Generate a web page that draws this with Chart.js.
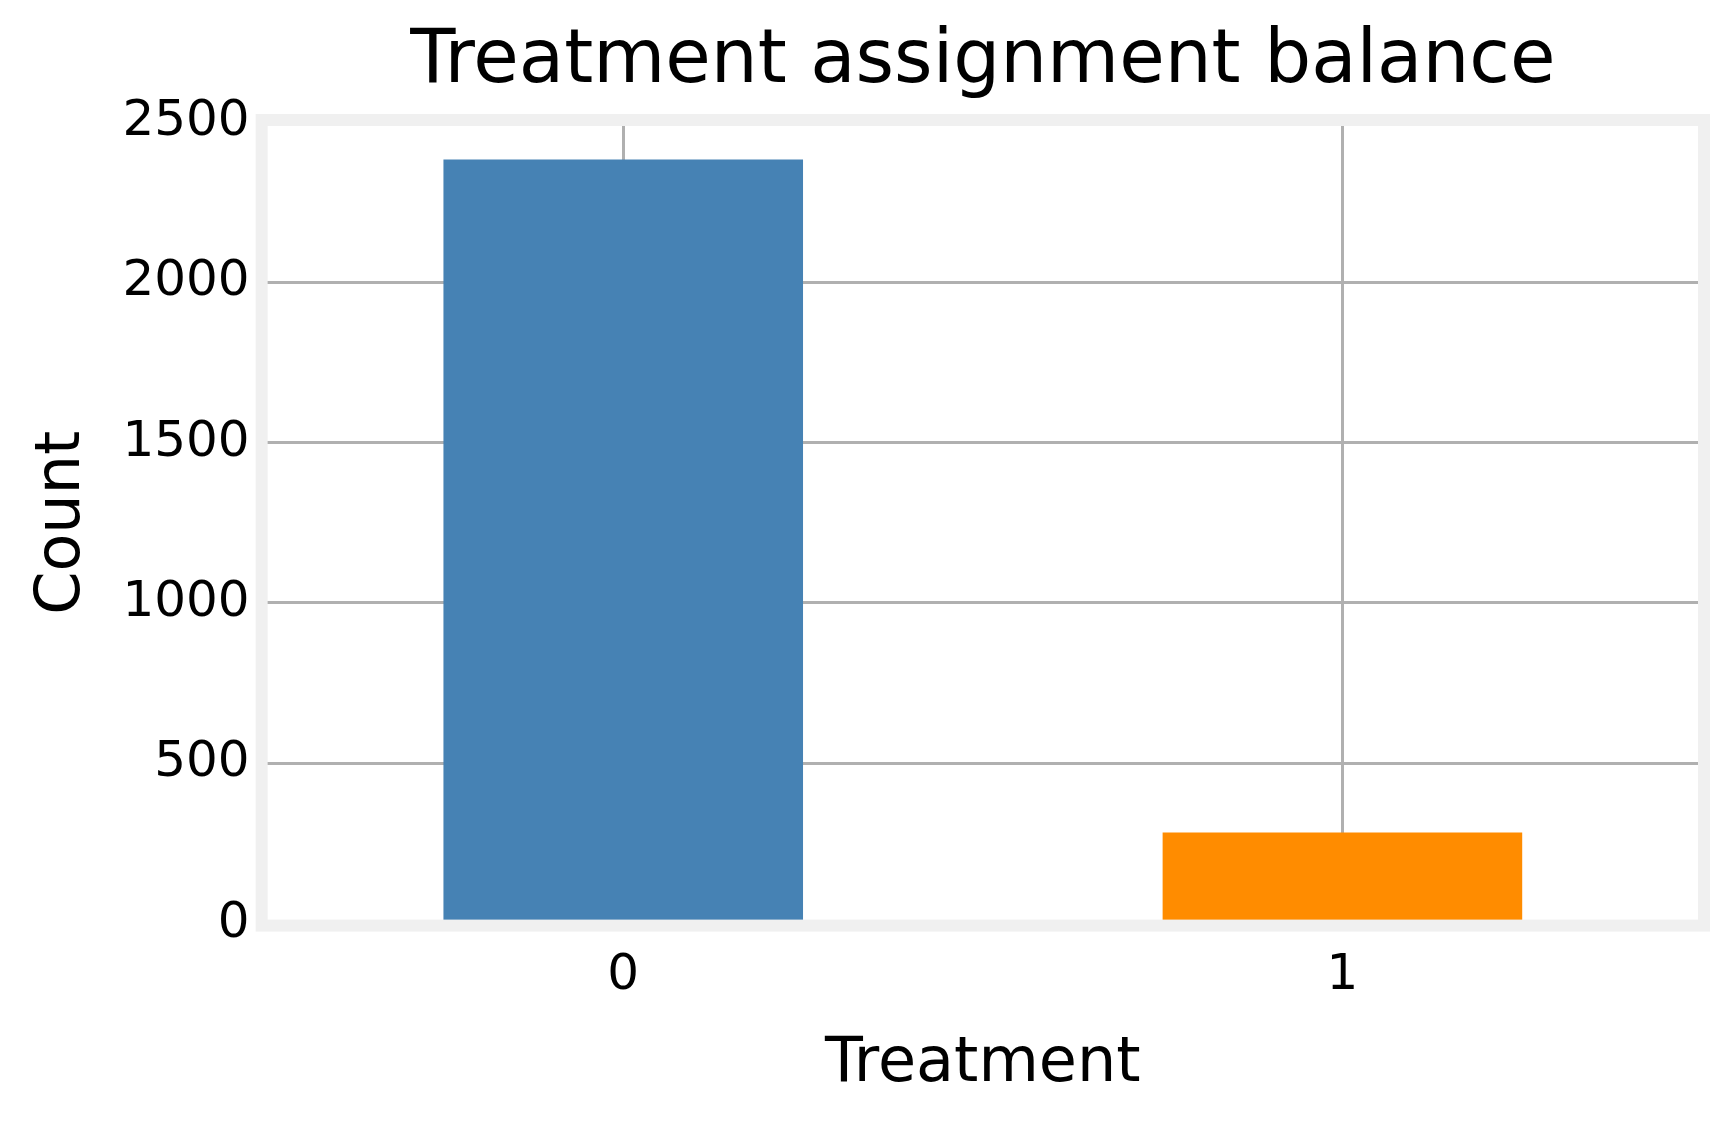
<!DOCTYPE html>
<html lang="en">
<head>
  <meta charset="UTF-8" />
  <title>Treatment assignment balance</title>
  <style>
    body { margin: 0; background: #fff; }
    #c { display: block; }
  </style>
</head>
<body>
<canvas id="c" width="1734" height="1134"></canvas>
<script src="https://cdn.jsdelivr.net/npm/chart.js"></script>
<script>
  const categories = ["0", "1"];
  const counts = [2383, 284];
  const barColors = ["#4682b4", "#ff8c00"];
  const yTicks = [0, 500, 1000, 1500, 2000, 2500];
  const titleText = "Treatment assignment balance";

  const font = "'DejaVu Sans', sans-serif";

  // light gray frame over the plot edges, plus a title centred on the plot area
  const framePlugin = {
    id: "frame",
    afterDraw(chart) {
      const a = chart.chartArea;
      const ctx = chart.ctx;
      ctx.save();
      ctx.strokeStyle = "#f0f0f0";
      ctx.lineWidth = 12;
      ctx.strokeRect(a.left - 2, a.top - 2, a.right - a.left + 4, a.bottom - a.top + 4);
      ctx.fillStyle = "#000";
      ctx.font = "74px " + font;
      ctx.textAlign = "center";
      ctx.textBaseline = "bottom";
      ctx.fillText(titleText, (a.left + a.right) / 2, a.top - 22);
      ctx.restore();
    }
  };

  new Chart(document.getElementById("c"), {
    type: "bar",
    data: {
      labels: categories,
      datasets: [{
        data: counts,
        backgroundColor: barColors,
        barPercentage: 0.5,
        categoryPercentage: 1.0
      }]
    },
    plugins: [framePlugin],
    options: {
      responsive: false,
      devicePixelRatio: 1,
      animation: false,
      layout: { padding: { left: 22, right: 32, top: 122, bottom: 28 } },
      plugins: {
        legend: { display: false },
        tooltip: { enabled: false },
        title: { display: false }
      },
      scales: {
        x: {
          offset: true,
          grid: { color: "#b0b0b0", lineWidth: 3, offset: false, drawTicks: false },
          border: { display: false },
          ticks: { color: "#000", font: { family: font, size: 50 }, padding: 22 },
          title: {
            display: true, text: "Treatment", color: "#000",
            font: { family: font, size: 62 }, padding: { top: 0 }
          }
        },
        y: {
          min: 0, max: 2500,
          afterBuildTicks(axis) { axis.ticks = yTicks.map(v => ({ value: v })); },
          grid: { color: "#b0b0b0", lineWidth: 3, drawTicks: false },
          border: { display: false },
          ticks: {
            color: "#000", font: { family: font, size: 50 }, padding: 14,
            callback: v => String(v)
          },
          title: {
            display: true, text: "Count", color: "#000",
            font: { family: font, size: 62 }, padding: { bottom: 8 }
          }
        }
      }
    }
  });
</script>
</body>
</html>
